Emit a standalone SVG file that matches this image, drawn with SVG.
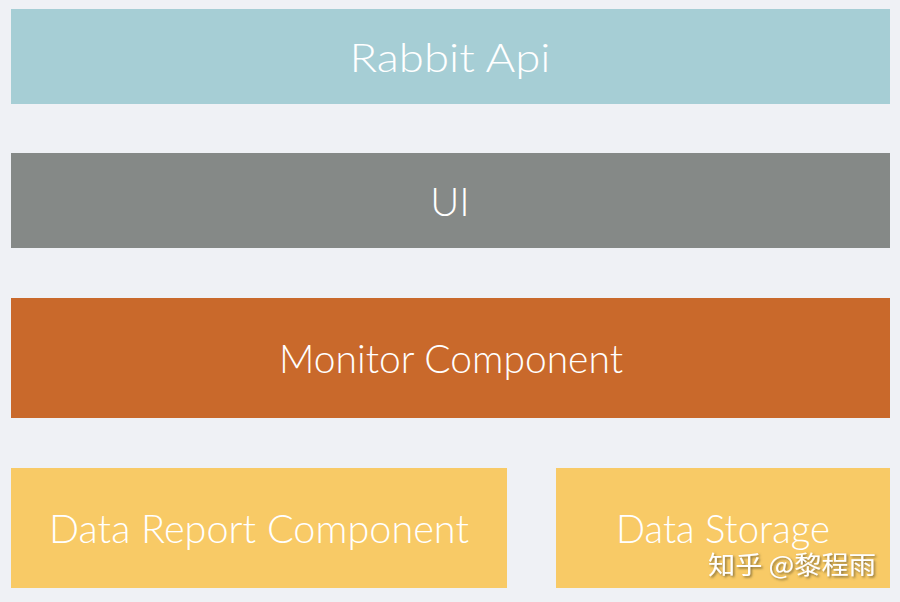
<svg xmlns="http://www.w3.org/2000/svg" width="900" height="602" viewBox="0 0 900 602">
<style>
.lbl{font-family:"Lato","Open Sans","Liberation Sans",sans-serif;font-weight:300;font-size:40px;fill:#ffffff;text-anchor:middle}
.wm{font-family:"Noto Sans CJK SC","Noto Sans",sans-serif;font-size:25px;fill:#ffffff}
</style>
<defs>
<filter id="sh" x="-10%" y="-30%" width="130%" height="160%">
<feDropShadow dx="1.5" dy="1.5" stdDeviation="1" flood-color="#6b5a2a" flood-opacity="0.8"/>
</filter>
</defs>
<rect x="0" y="0" width="900" height="602" fill="#eff1f5"/>
<g id="rabbit-api">
<rect x="11" y="9" width="879" height="95" fill="#a6ced5"/>
<text class="lbl" x="450" y="72" textLength="201" lengthAdjust="spacingAndGlyphs">Rabbit Api</text>
</g>
<g id="ui">
<rect x="11" y="153" width="879" height="95" fill="#858987"/>
<text class="lbl" x="450" y="216">UI</text>
</g>
<g id="monitor-component">
<rect x="11" y="298" width="879" height="120" fill="#c9692b"/>
<text class="lbl" x="451" y="373" textLength="344" lengthAdjust="spacingAndGlyphs">Monitor Component</text>
</g>
<g id="data-report-component">
<rect x="11" y="468" width="496" height="120" fill="#f8ca66"/>
<text class="lbl" x="259" y="543" textLength="420" lengthAdjust="spacingAndGlyphs">Data Report Component</text>
</g>
<g id="data-storage">
<rect x="556" y="468" width="334" height="120" fill="#f8ca66"/>
<text class="lbl" x="723" y="543" textLength="214" lengthAdjust="spacingAndGlyphs">Data Storage</text>
</g>
<g id="connectors"></g>
<text class="wm" x="708" y="574" filter="url(#sh)" textLength="168" lengthAdjust="spacingAndGlyphs">知乎 @黎程雨</text>
</svg>
